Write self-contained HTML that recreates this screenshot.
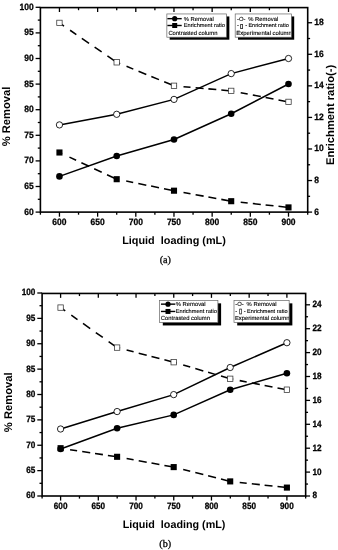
<!DOCTYPE html>
<html><head><meta charset="utf-8"><title>Figure</title>
<style>html,body{margin:0;padding:0;background:#fff;overflow:hidden}svg{display:block}text{text-rendering:geometricPrecision}</style></head>
<body>
<svg width="338" height="550" viewBox="0 0 338 550">
<rect width="338" height="550" fill="#fff"/>
<path d="M59.45 22.90L64.00 26.03M70.11 30.24L76.34 34.52M81.83 38.30L89.05 43.27M94.63 47.11L101.65 51.94M107.43 55.92L116.70 62.30M116.70 62.30L120.14 63.71M126.53 66.33L133.31 69.11M138.52 71.25L146.30 74.44M151.32 76.50L158.97 79.64M164.19 81.78L174.00 85.80M174.00 85.80L177.00 86.07M183.50 86.65L190.50 87.27M195.60 87.73L203.60 88.44M208.40 88.87L216.30 89.57M221.30 90.02L231.20 90.90M231.20 90.90L234.20 91.48M240.70 92.72L247.70 94.07M252.80 95.05L260.80 96.58M265.60 97.50L273.50 99.02M278.50 99.98L288.50 101.90" fill="none" stroke="#000" stroke-width="1.55"/>
<path d="M59.45 152.50L62.12 153.74M69.45 157.16L76.12 160.27M81.38 162.73L89.05 166.30M94.18 168.70L101.71 172.21M107.04 174.70L116.70 179.20M116.70 179.20L118.70 179.60M126.20 181.11L133.20 182.51M138.30 183.54L146.30 185.14M151.10 186.10L159.00 187.69M164.00 188.69L174.00 190.70M174.00 190.70L176.00 191.07M183.50 192.44L190.50 193.73M195.60 194.67L203.60 196.13M208.40 197.01L216.30 198.46M221.30 199.38L231.20 201.20M231.20 201.20L233.20 201.42M240.70 202.23L247.70 202.99M252.80 203.54L260.80 204.40M265.60 204.92L273.50 205.78M278.50 206.32L288.50 207.40" fill="none" stroke="#000" stroke-width="1.55"/>
<polyline points="59.45,124.90 116.70,114.30 174.00,99.40 231.20,73.60 288.50,58.50" fill="none" stroke="#000" stroke-width="1.5"/>
<polyline points="59.45,176.40 116.70,156.00 174.00,139.50 231.20,113.70 288.50,84.00" fill="none" stroke="#000" stroke-width="1.5"/>
<rect x="56.40" y="149.45" width="6.1" height="6.1" fill="#000"/>
<rect x="113.65" y="176.15" width="6.1" height="6.1" fill="#000"/>
<rect x="170.95" y="187.65" width="6.1" height="6.1" fill="#000"/>
<rect x="228.15" y="198.15" width="6.1" height="6.1" fill="#000"/>
<rect x="285.45" y="204.35" width="6.1" height="6.1" fill="#000"/>
<circle cx="59.45" cy="176.40" r="3.3" fill="#000"/>
<circle cx="116.70" cy="156.00" r="3.3" fill="#000"/>
<circle cx="174.00" cy="139.50" r="3.3" fill="#000"/>
<circle cx="231.20" cy="113.70" r="3.3" fill="#000"/>
<circle cx="288.50" cy="84.00" r="3.3" fill="#000"/>
<rect x="56.75" y="20.20" width="5.4" height="5.4" fill="#fff" stroke="#333" stroke-width="0.75"/>
<rect x="114.00" y="59.60" width="5.4" height="5.4" fill="#fff" stroke="#333" stroke-width="0.75"/>
<rect x="171.30" y="83.10" width="5.4" height="5.4" fill="#fff" stroke="#333" stroke-width="0.75"/>
<rect x="228.50" y="88.20" width="5.4" height="5.4" fill="#fff" stroke="#333" stroke-width="0.75"/>
<rect x="285.80" y="99.20" width="5.4" height="5.4" fill="#fff" stroke="#333" stroke-width="0.75"/>
<circle cx="59.45" cy="124.90" r="3.15" fill="#fff" stroke="#000" stroke-width="0.85"/>
<circle cx="116.70" cy="114.30" r="3.15" fill="#fff" stroke="#000" stroke-width="0.85"/>
<circle cx="174.00" cy="99.40" r="3.15" fill="#fff" stroke="#000" stroke-width="0.85"/>
<circle cx="231.20" cy="73.60" r="3.15" fill="#fff" stroke="#000" stroke-width="0.85"/>
<circle cx="288.50" cy="58.50" r="3.15" fill="#fff" stroke="#000" stroke-width="0.85"/>
<rect x="40.40" y="7.60" width="267.30" height="204.50" fill="none" stroke="#000" stroke-width="1.6"/>
<line x1="35.60" y1="212.10" x2="40.40" y2="212.10" stroke="#000" stroke-width="1.30"/>
<text transform="translate(33.70,214.50) scale(1,1.080)" text-anchor="end" font-family='"Liberation Sans", sans-serif' font-weight="bold" font-size="8.50" stroke="#000" stroke-width="0.25">60</text>
<line x1="37.80" y1="199.30" x2="40.40" y2="199.30" stroke="#000" stroke-width="1.30"/>
<line x1="35.60" y1="186.50" x2="40.40" y2="186.50" stroke="#000" stroke-width="1.30"/>
<text transform="translate(33.70,188.90) scale(1,1.080)" text-anchor="end" font-family='"Liberation Sans", sans-serif' font-weight="bold" font-size="8.50" stroke="#000" stroke-width="0.25">65</text>
<line x1="37.80" y1="173.70" x2="40.40" y2="173.70" stroke="#000" stroke-width="1.30"/>
<line x1="35.60" y1="160.90" x2="40.40" y2="160.90" stroke="#000" stroke-width="1.30"/>
<text transform="translate(33.70,163.30) scale(1,1.080)" text-anchor="end" font-family='"Liberation Sans", sans-serif' font-weight="bold" font-size="8.50" stroke="#000" stroke-width="0.25">70</text>
<line x1="37.80" y1="148.10" x2="40.40" y2="148.10" stroke="#000" stroke-width="1.30"/>
<line x1="35.60" y1="135.30" x2="40.40" y2="135.30" stroke="#000" stroke-width="1.30"/>
<text transform="translate(33.70,137.70) scale(1,1.080)" text-anchor="end" font-family='"Liberation Sans", sans-serif' font-weight="bold" font-size="8.50" stroke="#000" stroke-width="0.25">75</text>
<line x1="37.80" y1="122.50" x2="40.40" y2="122.50" stroke="#000" stroke-width="1.30"/>
<line x1="35.60" y1="109.70" x2="40.40" y2="109.70" stroke="#000" stroke-width="1.30"/>
<text transform="translate(33.70,112.10) scale(1,1.080)" text-anchor="end" font-family='"Liberation Sans", sans-serif' font-weight="bold" font-size="8.50" stroke="#000" stroke-width="0.25">80</text>
<line x1="37.80" y1="96.90" x2="40.40" y2="96.90" stroke="#000" stroke-width="1.30"/>
<line x1="35.60" y1="84.10" x2="40.40" y2="84.10" stroke="#000" stroke-width="1.30"/>
<text transform="translate(33.70,86.50) scale(1,1.080)" text-anchor="end" font-family='"Liberation Sans", sans-serif' font-weight="bold" font-size="8.50" stroke="#000" stroke-width="0.25">85</text>
<line x1="37.80" y1="71.30" x2="40.40" y2="71.30" stroke="#000" stroke-width="1.30"/>
<line x1="35.60" y1="58.50" x2="40.40" y2="58.50" stroke="#000" stroke-width="1.30"/>
<text transform="translate(33.70,60.90) scale(1,1.080)" text-anchor="end" font-family='"Liberation Sans", sans-serif' font-weight="bold" font-size="8.50" stroke="#000" stroke-width="0.25">90</text>
<line x1="37.80" y1="45.70" x2="40.40" y2="45.70" stroke="#000" stroke-width="1.30"/>
<line x1="35.60" y1="32.90" x2="40.40" y2="32.90" stroke="#000" stroke-width="1.30"/>
<text transform="translate(33.70,35.30) scale(1,1.080)" text-anchor="end" font-family='"Liberation Sans", sans-serif' font-weight="bold" font-size="8.50" stroke="#000" stroke-width="0.25">95</text>
<line x1="37.80" y1="20.10" x2="40.40" y2="20.10" stroke="#000" stroke-width="1.30"/>
<line x1="35.60" y1="7.30" x2="40.40" y2="7.30" stroke="#000" stroke-width="1.30"/>
<text transform="translate(33.70,9.70) scale(1,1.080)" text-anchor="end" font-family='"Liberation Sans", sans-serif' font-weight="bold" font-size="8.50" stroke="#000" stroke-width="0.25">100</text>
<line x1="307.70" y1="212.10" x2="312.10" y2="212.10" stroke="#000" stroke-width="1.30"/>
<text transform="translate(314.30,214.50) scale(1,1.080)" text-anchor="start" font-family='"Liberation Sans", sans-serif' font-weight="bold" font-size="8.50" stroke="#000" stroke-width="0.25">6</text>
<line x1="307.70" y1="196.32" x2="310.10" y2="196.32" stroke="#000" stroke-width="1.30"/>
<line x1="307.70" y1="180.54" x2="312.10" y2="180.54" stroke="#000" stroke-width="1.30"/>
<text transform="translate(314.30,182.94) scale(1,1.080)" text-anchor="start" font-family='"Liberation Sans", sans-serif' font-weight="bold" font-size="8.50" stroke="#000" stroke-width="0.25">8</text>
<line x1="307.70" y1="164.76" x2="310.10" y2="164.76" stroke="#000" stroke-width="1.30"/>
<line x1="307.70" y1="148.98" x2="312.10" y2="148.98" stroke="#000" stroke-width="1.30"/>
<text transform="translate(314.30,151.38) scale(1,1.080)" text-anchor="start" font-family='"Liberation Sans", sans-serif' font-weight="bold" font-size="8.50" stroke="#000" stroke-width="0.25">10</text>
<line x1="307.70" y1="133.20" x2="310.10" y2="133.20" stroke="#000" stroke-width="1.30"/>
<line x1="307.70" y1="117.42" x2="312.10" y2="117.42" stroke="#000" stroke-width="1.30"/>
<text transform="translate(314.30,119.82) scale(1,1.080)" text-anchor="start" font-family='"Liberation Sans", sans-serif' font-weight="bold" font-size="8.50" stroke="#000" stroke-width="0.25">12</text>
<line x1="307.70" y1="101.64" x2="310.10" y2="101.64" stroke="#000" stroke-width="1.30"/>
<line x1="307.70" y1="85.86" x2="312.10" y2="85.86" stroke="#000" stroke-width="1.30"/>
<text transform="translate(314.30,88.26) scale(1,1.080)" text-anchor="start" font-family='"Liberation Sans", sans-serif' font-weight="bold" font-size="8.50" stroke="#000" stroke-width="0.25">14</text>
<line x1="307.70" y1="70.08" x2="310.10" y2="70.08" stroke="#000" stroke-width="1.30"/>
<line x1="307.70" y1="54.30" x2="312.10" y2="54.30" stroke="#000" stroke-width="1.30"/>
<text transform="translate(314.30,56.70) scale(1,1.080)" text-anchor="start" font-family='"Liberation Sans", sans-serif' font-weight="bold" font-size="8.50" stroke="#000" stroke-width="0.25">16</text>
<line x1="307.70" y1="38.52" x2="310.10" y2="38.52" stroke="#000" stroke-width="1.30"/>
<line x1="307.70" y1="22.74" x2="312.10" y2="22.74" stroke="#000" stroke-width="1.30"/>
<text transform="translate(314.30,25.14) scale(1,1.080)" text-anchor="start" font-family='"Liberation Sans", sans-serif' font-weight="bold" font-size="8.50" stroke="#000" stroke-width="0.25">18</text>
<line x1="40.40" y1="212.10" x2="40.40" y2="214.70" stroke="#000" stroke-width="1.30"/>
<line x1="59.45" y1="212.10" x2="59.45" y2="216.70" stroke="#000" stroke-width="1.30"/>
<line x1="59.45" y1="7.60" x2="59.45" y2="12.00" stroke="#000" stroke-width="1.30"/>
<text transform="translate(59.45,225.10) scale(1,1.080)" text-anchor="middle" font-family='"Liberation Sans", sans-serif' font-weight="bold" font-size="8.50" stroke="#000" stroke-width="0.25">600</text>
<line x1="78.54" y1="212.10" x2="78.54" y2="214.70" stroke="#000" stroke-width="1.30"/>
<line x1="78.54" y1="7.60" x2="78.54" y2="10.20" stroke="#000" stroke-width="1.30"/>
<line x1="97.62" y1="212.10" x2="97.62" y2="216.70" stroke="#000" stroke-width="1.30"/>
<line x1="97.62" y1="7.60" x2="97.62" y2="12.00" stroke="#000" stroke-width="1.30"/>
<text transform="translate(97.62,225.10) scale(1,1.080)" text-anchor="middle" font-family='"Liberation Sans", sans-serif' font-weight="bold" font-size="8.50" stroke="#000" stroke-width="0.25">650</text>
<line x1="116.71" y1="212.10" x2="116.71" y2="214.70" stroke="#000" stroke-width="1.30"/>
<line x1="116.71" y1="7.60" x2="116.71" y2="10.20" stroke="#000" stroke-width="1.30"/>
<line x1="135.80" y1="212.10" x2="135.80" y2="216.70" stroke="#000" stroke-width="1.30"/>
<line x1="135.80" y1="7.60" x2="135.80" y2="12.00" stroke="#000" stroke-width="1.30"/>
<text transform="translate(135.80,225.10) scale(1,1.080)" text-anchor="middle" font-family='"Liberation Sans", sans-serif' font-weight="bold" font-size="8.50" stroke="#000" stroke-width="0.25">700</text>
<line x1="154.89" y1="212.10" x2="154.89" y2="214.70" stroke="#000" stroke-width="1.30"/>
<line x1="154.89" y1="7.60" x2="154.89" y2="10.20" stroke="#000" stroke-width="1.30"/>
<line x1="173.97" y1="212.10" x2="173.97" y2="216.70" stroke="#000" stroke-width="1.30"/>
<line x1="173.97" y1="7.60" x2="173.97" y2="12.00" stroke="#000" stroke-width="1.30"/>
<text transform="translate(173.97,225.10) scale(1,1.080)" text-anchor="middle" font-family='"Liberation Sans", sans-serif' font-weight="bold" font-size="8.50" stroke="#000" stroke-width="0.25">750</text>
<line x1="193.06" y1="212.10" x2="193.06" y2="214.70" stroke="#000" stroke-width="1.30"/>
<line x1="193.06" y1="7.60" x2="193.06" y2="10.20" stroke="#000" stroke-width="1.30"/>
<line x1="212.15" y1="212.10" x2="212.15" y2="216.70" stroke="#000" stroke-width="1.30"/>
<line x1="212.15" y1="7.60" x2="212.15" y2="12.00" stroke="#000" stroke-width="1.30"/>
<text transform="translate(212.15,225.10) scale(1,1.080)" text-anchor="middle" font-family='"Liberation Sans", sans-serif' font-weight="bold" font-size="8.50" stroke="#000" stroke-width="0.25">800</text>
<line x1="231.24" y1="212.10" x2="231.24" y2="214.70" stroke="#000" stroke-width="1.30"/>
<line x1="231.24" y1="7.60" x2="231.24" y2="10.20" stroke="#000" stroke-width="1.30"/>
<line x1="250.32" y1="212.10" x2="250.32" y2="216.70" stroke="#000" stroke-width="1.30"/>
<line x1="250.32" y1="7.60" x2="250.32" y2="12.00" stroke="#000" stroke-width="1.30"/>
<text transform="translate(250.32,225.10) scale(1,1.080)" text-anchor="middle" font-family='"Liberation Sans", sans-serif' font-weight="bold" font-size="8.50" stroke="#000" stroke-width="0.25">850</text>
<line x1="269.41" y1="212.10" x2="269.41" y2="214.70" stroke="#000" stroke-width="1.30"/>
<line x1="269.41" y1="7.60" x2="269.41" y2="10.20" stroke="#000" stroke-width="1.30"/>
<line x1="288.50" y1="212.10" x2="288.50" y2="216.70" stroke="#000" stroke-width="1.30"/>
<line x1="288.50" y1="7.60" x2="288.50" y2="12.00" stroke="#000" stroke-width="1.30"/>
<text transform="translate(288.50,225.10) scale(1,1.080)" text-anchor="middle" font-family='"Liberation Sans", sans-serif' font-weight="bold" font-size="8.50" stroke="#000" stroke-width="0.25">900</text>
<line x1="307.70" y1="212.10" x2="307.70" y2="214.70" stroke="#000" stroke-width="1.30"/>
<text transform="translate(174.00,243.80) scale(1,1.000)" text-anchor="middle" font-family='"Liberation Sans", sans-serif' font-weight="bold" font-size="10.85" xml:space="preserve">Liquid  loading (mL)</text>
<text transform="translate(10.20,116.50) rotate(-90)" text-anchor="middle" font-family='"Liberation Sans", sans-serif' font-weight="bold" font-size="11.2">% Removal</text>
<text transform="translate(334.3,114.90) rotate(-90)" text-anchor="middle" font-family='"Liberation Sans", sans-serif' font-weight="bold" font-size="11.2">Enrichment ratio(-)</text>
<text transform="translate(165.30,263.20) scale(1,1.000)" text-anchor="middle" font-family='"Liberation Serif", "DejaVu Serif", serif' font-size="10.20" stroke="#000" stroke-width="0.3">(a)</text>
<rect x="169.65" y="16.45" width="59.70" height="23.25" fill="#000"/>
<rect x="166.85" y="13.95" width="59.70" height="23.25" fill="#fff" stroke="#666" stroke-width="0.7"/>
<clipPath id="ca0"><rect x="166.85" y="13.95" width="59.30" height="23.25"/></clipPath>
<rect x="238.00" y="16.45" width="56.20" height="23.25" fill="#000"/>
<rect x="235.20" y="13.95" width="56.20" height="23.25" fill="#fff" stroke="#666" stroke-width="0.7"/>
<clipPath id="ca1"><rect x="235.20" y="13.95" width="55.80" height="23.25"/></clipPath>
<line x1="167.40" y1="18.65" x2="181.70" y2="18.65" stroke="#000" stroke-width="1.40"/>
<circle cx="174.70" cy="18.65" r="2.6" fill="#000"/>
<line x1="167.40" y1="25.50" x2="181.70" y2="25.50" stroke="#000" stroke-width="1.40"/>
<rect x="172.20" y="23.00" width="5" height="5" fill="#000"/>
<g clip-path="url(#ca0)">
<text transform="translate(183.80,20.50) scale(1,1.000)" text-anchor="start" font-family='"Liberation Sans", sans-serif' font-size="5.85" stroke="#000" stroke-width="0.12">% Removal</text>
<text transform="translate(183.80,27.35) scale(1,1.000)" text-anchor="start" font-family='"Liberation Sans", sans-serif' font-size="5.65" stroke="#000" stroke-width="0.12">Enrichment ratio</text>
<text transform="translate(168.40,35.25) scale(1,1.000)" text-anchor="start" font-family='"Liberation Sans", sans-serif' font-size="5.85" stroke="#000" stroke-width="0.12">Contrasted column</text>
</g>
<g clip-path="url(#ca1)">
<text transform="translate(237.10,20.50) scale(1,1.000)" text-anchor="start" font-family='"Liberation Sans", sans-serif' font-size="5.85" stroke="#000" stroke-width="0.12">-O-</text>
<text transform="translate(248.30,20.50) scale(1,1.000)" text-anchor="start" font-family='"Liberation Sans", sans-serif' font-size="5.85" stroke="#000" stroke-width="0.12">% Removal</text>
<text transform="translate(237.10,27.35) scale(1,1.000)" text-anchor="start" font-family='"Liberation Sans", sans-serif' font-size="5.85" stroke="#000" stroke-width="0.12">-</text>
<text transform="translate(240.00,27.70) scale(1,1.000)" text-anchor="start" font-family='"DejaVu Sans", sans-serif' font-size="5.90" fill="#222" stroke="#222" stroke-width="0.35">&#x25AF;</text>
<text transform="translate(245.30,27.35) scale(1,1.000)" text-anchor="start" font-family='"Liberation Sans", sans-serif' font-size="5.85" stroke="#000" stroke-width="0.12">-</text>
<text transform="translate(248.40,27.35) scale(1,1.000)" text-anchor="start" font-family='"Liberation Sans", sans-serif' font-size="5.55" stroke="#000" stroke-width="0.12">Enrichment ratio</text>
<text transform="translate(236.30,35.25) scale(1,1.000)" text-anchor="start" font-family='"Liberation Sans", sans-serif' font-size="5.95" stroke="#000" stroke-width="0.12">Experimental column</text>
</g>
<path d="M60.60 307.60L65.23 310.88M71.30 315.18L77.50 319.56M83.00 323.46L90.20 328.56M95.80 332.52L102.80 337.48M108.60 341.58L117.10 347.60M117.10 347.60L120.10 348.37M126.60 350.05L133.60 351.86M138.70 353.17L146.70 355.24M151.50 356.47L159.40 358.51M164.40 359.80L173.70 362.20M173.70 362.20L176.70 363.08M183.20 364.99L190.20 367.05M195.30 368.55L203.30 370.90M208.10 372.31L216.00 374.63M221.00 376.10L230.20 378.80M230.20 378.80L233.20 379.38M239.70 380.63L246.70 381.97M251.80 382.95L259.80 384.49M264.60 385.41L272.50 386.93M277.50 387.89L286.90 389.70" fill="none" stroke="#000" stroke-width="1.55"/>
<path d="M60.60 448.20L62.60 448.50M70.10 449.65L77.10 450.71M82.20 451.49L90.20 452.71M95.00 453.44L102.90 454.64M107.90 455.40L117.10 456.80M117.10 456.80L119.10 457.16M126.60 458.53L133.60 459.80M138.70 460.73L146.70 462.19M151.50 463.06L159.40 464.50M164.40 465.41L173.70 467.10M173.70 467.10L175.70 467.61M183.20 469.50L190.20 471.28M195.30 472.57L203.30 474.59M208.10 475.81L216.00 477.81M221.00 479.07L230.20 481.40M230.20 481.40L232.20 481.62M239.70 482.44L246.70 483.20M251.80 483.76L259.80 484.64M264.60 485.16L272.50 486.03M277.50 486.57L286.90 487.60" fill="none" stroke="#000" stroke-width="1.55"/>
<polyline points="60.60,429.00 117.10,411.55 173.70,394.60 230.20,367.50 286.90,342.70" fill="none" stroke="#000" stroke-width="1.5"/>
<polyline points="60.60,449.00 117.10,428.30 173.70,414.90 230.20,389.70 286.90,373.20" fill="none" stroke="#000" stroke-width="1.5"/>
<rect x="57.55" y="445.15" width="6.1" height="6.1" fill="#000"/>
<rect x="114.05" y="453.75" width="6.1" height="6.1" fill="#000"/>
<rect x="170.65" y="464.05" width="6.1" height="6.1" fill="#000"/>
<rect x="227.15" y="478.35" width="6.1" height="6.1" fill="#000"/>
<rect x="283.85" y="484.55" width="6.1" height="6.1" fill="#000"/>
<circle cx="60.60" cy="449.00" r="3.3" fill="#000"/>
<circle cx="117.10" cy="428.30" r="3.3" fill="#000"/>
<circle cx="173.70" cy="414.90" r="3.3" fill="#000"/>
<circle cx="230.20" cy="389.70" r="3.3" fill="#000"/>
<circle cx="286.90" cy="373.20" r="3.3" fill="#000"/>
<rect x="57.90" y="304.90" width="5.4" height="5.4" fill="#fff" stroke="#333" stroke-width="0.75"/>
<rect x="114.40" y="344.90" width="5.4" height="5.4" fill="#fff" stroke="#333" stroke-width="0.75"/>
<rect x="171.00" y="359.50" width="5.4" height="5.4" fill="#fff" stroke="#333" stroke-width="0.75"/>
<rect x="227.50" y="376.10" width="5.4" height="5.4" fill="#fff" stroke="#333" stroke-width="0.75"/>
<rect x="284.20" y="387.00" width="5.4" height="5.4" fill="#fff" stroke="#333" stroke-width="0.75"/>
<circle cx="60.60" cy="429.00" r="3.15" fill="#fff" stroke="#000" stroke-width="0.85"/>
<circle cx="117.10" cy="411.55" r="3.15" fill="#fff" stroke="#000" stroke-width="0.85"/>
<circle cx="173.70" cy="394.60" r="3.15" fill="#fff" stroke="#000" stroke-width="0.85"/>
<circle cx="230.20" cy="367.50" r="3.15" fill="#fff" stroke="#000" stroke-width="0.85"/>
<circle cx="286.90" cy="342.70" r="3.15" fill="#fff" stroke="#000" stroke-width="0.85"/>
<rect x="42.10" y="293.45" width="263.55" height="202.55" fill="none" stroke="#000" stroke-width="1.6"/>
<line x1="37.30" y1="496.00" x2="42.10" y2="496.00" stroke="#000" stroke-width="1.30"/>
<text transform="translate(35.40,498.40) scale(1,1.120)" text-anchor="end" font-family='"Liberation Sans", sans-serif' font-weight="bold" font-size="8.20" stroke="#000" stroke-width="0.25">60</text>
<line x1="39.50" y1="483.31" x2="42.10" y2="483.31" stroke="#000" stroke-width="1.30"/>
<line x1="37.30" y1="470.62" x2="42.10" y2="470.62" stroke="#000" stroke-width="1.30"/>
<text transform="translate(35.40,473.02) scale(1,1.120)" text-anchor="end" font-family='"Liberation Sans", sans-serif' font-weight="bold" font-size="8.20" stroke="#000" stroke-width="0.25">65</text>
<line x1="39.50" y1="457.94" x2="42.10" y2="457.94" stroke="#000" stroke-width="1.30"/>
<line x1="37.30" y1="445.25" x2="42.10" y2="445.25" stroke="#000" stroke-width="1.30"/>
<text transform="translate(35.40,447.65) scale(1,1.120)" text-anchor="end" font-family='"Liberation Sans", sans-serif' font-weight="bold" font-size="8.20" stroke="#000" stroke-width="0.25">70</text>
<line x1="39.50" y1="432.56" x2="42.10" y2="432.56" stroke="#000" stroke-width="1.30"/>
<line x1="37.30" y1="419.88" x2="42.10" y2="419.88" stroke="#000" stroke-width="1.30"/>
<text transform="translate(35.40,422.27) scale(1,1.120)" text-anchor="end" font-family='"Liberation Sans", sans-serif' font-weight="bold" font-size="8.20" stroke="#000" stroke-width="0.25">75</text>
<line x1="39.50" y1="407.19" x2="42.10" y2="407.19" stroke="#000" stroke-width="1.30"/>
<line x1="37.30" y1="394.50" x2="42.10" y2="394.50" stroke="#000" stroke-width="1.30"/>
<text transform="translate(35.40,396.90) scale(1,1.120)" text-anchor="end" font-family='"Liberation Sans", sans-serif' font-weight="bold" font-size="8.20" stroke="#000" stroke-width="0.25">80</text>
<line x1="39.50" y1="381.81" x2="42.10" y2="381.81" stroke="#000" stroke-width="1.30"/>
<line x1="37.30" y1="369.12" x2="42.10" y2="369.12" stroke="#000" stroke-width="1.30"/>
<text transform="translate(35.40,371.52) scale(1,1.120)" text-anchor="end" font-family='"Liberation Sans", sans-serif' font-weight="bold" font-size="8.20" stroke="#000" stroke-width="0.25">85</text>
<line x1="39.50" y1="356.44" x2="42.10" y2="356.44" stroke="#000" stroke-width="1.30"/>
<line x1="37.30" y1="343.75" x2="42.10" y2="343.75" stroke="#000" stroke-width="1.30"/>
<text transform="translate(35.40,346.15) scale(1,1.120)" text-anchor="end" font-family='"Liberation Sans", sans-serif' font-weight="bold" font-size="8.20" stroke="#000" stroke-width="0.25">90</text>
<line x1="39.50" y1="331.06" x2="42.10" y2="331.06" stroke="#000" stroke-width="1.30"/>
<line x1="37.30" y1="318.38" x2="42.10" y2="318.38" stroke="#000" stroke-width="1.30"/>
<text transform="translate(35.40,320.77) scale(1,1.120)" text-anchor="end" font-family='"Liberation Sans", sans-serif' font-weight="bold" font-size="8.20" stroke="#000" stroke-width="0.25">95</text>
<line x1="39.50" y1="305.69" x2="42.10" y2="305.69" stroke="#000" stroke-width="1.30"/>
<line x1="37.30" y1="293.00" x2="42.10" y2="293.00" stroke="#000" stroke-width="1.30"/>
<text transform="translate(35.40,295.40) scale(1,1.120)" text-anchor="end" font-family='"Liberation Sans", sans-serif' font-weight="bold" font-size="8.20" stroke="#000" stroke-width="0.25">100</text>
<line x1="305.65" y1="496.00" x2="310.05" y2="496.00" stroke="#000" stroke-width="1.30"/>
<text transform="translate(312.45,498.40) scale(1,1.120)" text-anchor="start" font-family='"Liberation Sans", sans-serif' font-weight="bold" font-size="8.20" stroke="#000" stroke-width="0.25">8</text>
<line x1="305.65" y1="484.05" x2="308.05" y2="484.05" stroke="#000" stroke-width="1.30"/>
<line x1="305.65" y1="472.10" x2="310.05" y2="472.10" stroke="#000" stroke-width="1.30"/>
<text transform="translate(312.45,474.50) scale(1,1.120)" text-anchor="start" font-family='"Liberation Sans", sans-serif' font-weight="bold" font-size="8.20" stroke="#000" stroke-width="0.25">10</text>
<line x1="305.65" y1="460.15" x2="308.05" y2="460.15" stroke="#000" stroke-width="1.30"/>
<line x1="305.65" y1="448.20" x2="310.05" y2="448.20" stroke="#000" stroke-width="1.30"/>
<text transform="translate(312.45,450.60) scale(1,1.120)" text-anchor="start" font-family='"Liberation Sans", sans-serif' font-weight="bold" font-size="8.20" stroke="#000" stroke-width="0.25">12</text>
<line x1="305.65" y1="436.25" x2="308.05" y2="436.25" stroke="#000" stroke-width="1.30"/>
<line x1="305.65" y1="424.30" x2="310.05" y2="424.30" stroke="#000" stroke-width="1.30"/>
<text transform="translate(312.45,426.70) scale(1,1.120)" text-anchor="start" font-family='"Liberation Sans", sans-serif' font-weight="bold" font-size="8.20" stroke="#000" stroke-width="0.25">14</text>
<line x1="305.65" y1="412.35" x2="308.05" y2="412.35" stroke="#000" stroke-width="1.30"/>
<line x1="305.65" y1="400.40" x2="310.05" y2="400.40" stroke="#000" stroke-width="1.30"/>
<text transform="translate(312.45,402.80) scale(1,1.120)" text-anchor="start" font-family='"Liberation Sans", sans-serif' font-weight="bold" font-size="8.20" stroke="#000" stroke-width="0.25">16</text>
<line x1="305.65" y1="388.45" x2="308.05" y2="388.45" stroke="#000" stroke-width="1.30"/>
<line x1="305.65" y1="376.50" x2="310.05" y2="376.50" stroke="#000" stroke-width="1.30"/>
<text transform="translate(312.45,378.90) scale(1,1.120)" text-anchor="start" font-family='"Liberation Sans", sans-serif' font-weight="bold" font-size="8.20" stroke="#000" stroke-width="0.25">18</text>
<line x1="305.65" y1="364.55" x2="308.05" y2="364.55" stroke="#000" stroke-width="1.30"/>
<line x1="305.65" y1="352.60" x2="310.05" y2="352.60" stroke="#000" stroke-width="1.30"/>
<text transform="translate(312.45,355.00) scale(1,1.120)" text-anchor="start" font-family='"Liberation Sans", sans-serif' font-weight="bold" font-size="8.20" stroke="#000" stroke-width="0.25">20</text>
<line x1="305.65" y1="340.65" x2="308.05" y2="340.65" stroke="#000" stroke-width="1.30"/>
<line x1="305.65" y1="328.70" x2="310.05" y2="328.70" stroke="#000" stroke-width="1.30"/>
<text transform="translate(312.45,331.10) scale(1,1.120)" text-anchor="start" font-family='"Liberation Sans", sans-serif' font-weight="bold" font-size="8.20" stroke="#000" stroke-width="0.25">22</text>
<line x1="305.65" y1="316.75" x2="308.05" y2="316.75" stroke="#000" stroke-width="1.30"/>
<line x1="305.65" y1="304.80" x2="310.05" y2="304.80" stroke="#000" stroke-width="1.30"/>
<text transform="translate(312.45,307.20) scale(1,1.120)" text-anchor="start" font-family='"Liberation Sans", sans-serif' font-weight="bold" font-size="8.20" stroke="#000" stroke-width="0.25">24</text>
<line x1="42.10" y1="496.00" x2="42.10" y2="498.60" stroke="#000" stroke-width="1.30"/>
<line x1="60.60" y1="496.00" x2="60.60" y2="500.60" stroke="#000" stroke-width="1.30"/>
<line x1="60.60" y1="293.45" x2="60.60" y2="297.85" stroke="#000" stroke-width="1.30"/>
<text transform="translate(60.60,509.40) scale(1,1.120)" text-anchor="middle" font-family='"Liberation Sans", sans-serif' font-weight="bold" font-size="8.20" stroke="#000" stroke-width="0.25">600</text>
<line x1="79.46" y1="496.00" x2="79.46" y2="498.60" stroke="#000" stroke-width="1.30"/>
<line x1="79.46" y1="293.45" x2="79.46" y2="296.05" stroke="#000" stroke-width="1.30"/>
<line x1="98.31" y1="496.00" x2="98.31" y2="500.60" stroke="#000" stroke-width="1.30"/>
<line x1="98.31" y1="293.45" x2="98.31" y2="297.85" stroke="#000" stroke-width="1.30"/>
<text transform="translate(98.31,509.40) scale(1,1.120)" text-anchor="middle" font-family='"Liberation Sans", sans-serif' font-weight="bold" font-size="8.20" stroke="#000" stroke-width="0.25">650</text>
<line x1="117.17" y1="496.00" x2="117.17" y2="498.60" stroke="#000" stroke-width="1.30"/>
<line x1="117.17" y1="293.45" x2="117.17" y2="296.05" stroke="#000" stroke-width="1.30"/>
<line x1="136.03" y1="496.00" x2="136.03" y2="500.60" stroke="#000" stroke-width="1.30"/>
<line x1="136.03" y1="293.45" x2="136.03" y2="297.85" stroke="#000" stroke-width="1.30"/>
<text transform="translate(136.03,509.40) scale(1,1.120)" text-anchor="middle" font-family='"Liberation Sans", sans-serif' font-weight="bold" font-size="8.20" stroke="#000" stroke-width="0.25">700</text>
<line x1="154.89" y1="496.00" x2="154.89" y2="498.60" stroke="#000" stroke-width="1.30"/>
<line x1="154.89" y1="293.45" x2="154.89" y2="296.05" stroke="#000" stroke-width="1.30"/>
<line x1="173.75" y1="496.00" x2="173.75" y2="500.60" stroke="#000" stroke-width="1.30"/>
<line x1="173.75" y1="293.45" x2="173.75" y2="297.85" stroke="#000" stroke-width="1.30"/>
<text transform="translate(173.75,509.40) scale(1,1.120)" text-anchor="middle" font-family='"Liberation Sans", sans-serif' font-weight="bold" font-size="8.20" stroke="#000" stroke-width="0.25">750</text>
<line x1="192.60" y1="496.00" x2="192.60" y2="498.60" stroke="#000" stroke-width="1.30"/>
<line x1="192.60" y1="293.45" x2="192.60" y2="296.05" stroke="#000" stroke-width="1.30"/>
<line x1="211.46" y1="496.00" x2="211.46" y2="500.60" stroke="#000" stroke-width="1.30"/>
<line x1="211.46" y1="293.45" x2="211.46" y2="297.85" stroke="#000" stroke-width="1.30"/>
<text transform="translate(211.46,509.40) scale(1,1.120)" text-anchor="middle" font-family='"Liberation Sans", sans-serif' font-weight="bold" font-size="8.20" stroke="#000" stroke-width="0.25">800</text>
<line x1="230.32" y1="496.00" x2="230.32" y2="498.60" stroke="#000" stroke-width="1.30"/>
<line x1="230.32" y1="293.45" x2="230.32" y2="296.05" stroke="#000" stroke-width="1.30"/>
<line x1="249.17" y1="496.00" x2="249.17" y2="500.60" stroke="#000" stroke-width="1.30"/>
<line x1="249.17" y1="293.45" x2="249.17" y2="297.85" stroke="#000" stroke-width="1.30"/>
<text transform="translate(249.17,509.40) scale(1,1.120)" text-anchor="middle" font-family='"Liberation Sans", sans-serif' font-weight="bold" font-size="8.20" stroke="#000" stroke-width="0.25">850</text>
<line x1="268.03" y1="496.00" x2="268.03" y2="498.60" stroke="#000" stroke-width="1.30"/>
<line x1="268.03" y1="293.45" x2="268.03" y2="296.05" stroke="#000" stroke-width="1.30"/>
<line x1="286.89" y1="496.00" x2="286.89" y2="500.60" stroke="#000" stroke-width="1.30"/>
<line x1="286.89" y1="293.45" x2="286.89" y2="297.85" stroke="#000" stroke-width="1.30"/>
<text transform="translate(286.89,509.40) scale(1,1.120)" text-anchor="middle" font-family='"Liberation Sans", sans-serif' font-weight="bold" font-size="8.20" stroke="#000" stroke-width="0.25">900</text>
<line x1="305.65" y1="496.00" x2="305.65" y2="498.60" stroke="#000" stroke-width="1.30"/>
<text transform="translate(174.00,527.70) scale(1,1.000)" text-anchor="middle" font-family='"Liberation Sans", sans-serif' font-weight="bold" font-size="10.75" xml:space="preserve">Liquid  loading (mL)</text>
<text transform="translate(12.20,402.30) rotate(-90)" text-anchor="middle" font-family='"Liberation Sans", sans-serif' font-weight="bold" font-size="11.2">% Removal</text>
<text transform="translate(165.30,546.80) scale(1,1.000)" text-anchor="middle" font-family='"Liberation Serif", "DejaVu Serif", serif' font-size="10.20" stroke="#000" stroke-width="0.3">(b)</text>
<rect x="162.80" y="303.35" width="58.30" height="22.10" fill="#000"/>
<rect x="159.60" y="300.35" width="58.30" height="22.10" fill="#fff" stroke="#666" stroke-width="0.7"/>
<clipPath id="cb0"><rect x="159.60" y="300.35" width="57.90" height="22.10"/></clipPath>
<rect x="237.20" y="303.35" width="55.15" height="22.10" fill="#000"/>
<rect x="234.00" y="300.35" width="55.15" height="22.10" fill="#fff" stroke="#666" stroke-width="0.7"/>
<clipPath id="cb1"><rect x="234.00" y="300.35" width="54.75" height="22.10"/></clipPath>
<line x1="160.95" y1="304.15" x2="175.30" y2="304.15" stroke="#000" stroke-width="1.40"/>
<circle cx="168.00" cy="304.15" r="2.6" fill="#000"/>
<line x1="160.95" y1="311.45" x2="175.30" y2="311.45" stroke="#000" stroke-width="1.40"/>
<rect x="165.50" y="308.95" width="5" height="5" fill="#000"/>
<g clip-path="url(#cb0)">
<text transform="translate(175.75,306.00) scale(1,1.000)" text-anchor="start" font-family='"Liberation Sans", sans-serif' font-size="5.85" stroke="#000" stroke-width="0.12">% Removal</text>
<text transform="translate(175.75,313.30) scale(1,1.000)" text-anchor="start" font-family='"Liberation Sans", sans-serif' font-size="5.65" stroke="#000" stroke-width="0.12">Enrichment ratio</text>
<text transform="translate(160.85,320.40) scale(1,1.000)" text-anchor="start" font-family='"Liberation Sans", sans-serif' font-size="5.85" stroke="#000" stroke-width="0.12">Contrasted column</text>
</g>
<g clip-path="url(#cb1)">
<text transform="translate(235.35,306.00) scale(1,1.000)" text-anchor="start" font-family='"Liberation Sans", sans-serif' font-size="5.85" stroke="#000" stroke-width="0.12">-O-</text>
<text transform="translate(246.60,306.00) scale(1,1.000)" text-anchor="start" font-family='"Liberation Sans", sans-serif' font-size="5.85" stroke="#000" stroke-width="0.12">% Removal</text>
<text transform="translate(235.35,313.30) scale(1,1.000)" text-anchor="start" font-family='"Liberation Sans", sans-serif' font-size="5.85" stroke="#000" stroke-width="0.12">- [] -</text>
<text transform="translate(247.10,313.30) scale(1,1.000)" text-anchor="start" font-family='"Liberation Sans", sans-serif' font-size="5.55" stroke="#000" stroke-width="0.12">Enrichment ratio</text>
<text transform="translate(234.90,320.40) scale(1,1.000)" text-anchor="start" font-family='"Liberation Sans", sans-serif' font-size="5.85" stroke="#000" stroke-width="0.12">Experimental column</text>
</g>
</svg>
</body></html>
